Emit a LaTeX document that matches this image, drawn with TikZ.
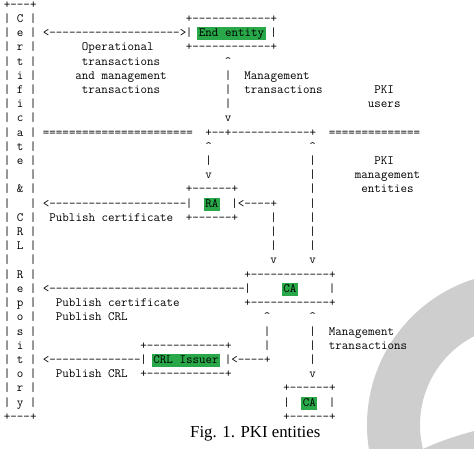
\documentclass[tikz,border=0pt]{standalone}
\usepackage{fontspec}
\setmainfont{Liberation Serif}
\definecolor{hlgreen}{RGB}{40,168,72}
\definecolor{wmgray}{RGB}{206,206,206}
\tikzset{
  asc/.style={font=\ttfamily\fontsize{12.65}{14}\selectfont, inner sep=0pt, anchor=base west, text=black},
  hl/.style={fill=hlgreen, inner xsep=1.5pt, xshift=-1.5pt, text height=9.5pt, text depth=3.5pt},
  captionstyle/.style={font=\rmfamily\fontsize{16.8}{20}\selectfont, inner sep=0pt, anchor=base west}
}
\newcommand\cell[5][]{\node[asc,#1] (#2) at ({3.75+6.5*(#3)},{8.4+14.2*(#4)}) {#5};}
\begin{document}
\begin{tikzpicture}[x=1pt,y=-1pt]
\useasboundingbox (0,0) rectangle (474,449);
% watermark
\begin{scope}
  \clip (0,0) rectangle (474,449);
  \fill[wmgray, even odd rule] (520,425) circle[radius=153pt] (520,425) circle[radius=100pt];
  \fill[wmgray] (423,449) .. controls (440,441) and (456,436) .. (474,431) -- (474,449) -- cycle;
\end{scope}
% repository column
\cell{repTop}{0}{0}{+---+}
\cell{repBot}{0}{29}{+---+}
\foreach \ch [count=\r] in {C,e,r,t,i,f,i,c,a,t,e,{},\&,{},C,R,L,{},R,e,p,o,s,i,t,o,r,y}{
  \cell{lL\r}{0}{\r}{|}
  \cell{lC\r}{2}{\r}{\ch}
  \cell{lR\r}{4}{\r}{|}
}
% end entity
\cell{eeTop}{28}{1}{+------------+}
\cell{arrE}{6}{2}{<-------------------->}
\cell{eeL}{28}{2}{|}
\cell[hl]{ee}{30}{2}{End entity}
\cell{eeR}{41}{2}{|}
\cell{eeBot}{28}{3}{+------------+}
\cell{op1}{12}{3}{Operational}
\cell{op2}{12}{4}{transactions}
\cell{op3}{11}{5}{and management}
\cell{op4}{12}{6}{transactions}
\cell{up1}{34}{4}{\textasciicircum}
\cell{v1a}{34}{5}{|}
\cell{v1b}{34}{6}{|}
\cell{v1c}{34}{7}{|}
\cell{dn1}{34}{8}{v}
\cell{mt1}{37}{5}{Management}
\cell{mt2}{37}{6}{transactions}
\cell{pu1}{57}{6}{PKI}
\cell{pu2}{56}{7}{users}
% separator row
\cell{eqL}{6}{9}{=======================}
\cell{bus}{31}{9}{+--+------------+}
\cell{eqR}{50}{9}{==============}
\cell{up2}{31}{10}{\textasciicircum}
\cell{up3}{47}{10}{\textasciicircum}
\cell{v2a}{31}{11}{|}
\cell{dn2}{31}{12}{v}
\cell{v3a}{47}{11}{|}
\cell{v3b}{47}{12}{|}
\cell{v3c}{47}{13}{|}
\cell{v3d}{47}{14}{|}
\cell{v3e}{47}{15}{|}
\cell{v3f}{47}{16}{|}
\cell{v3g}{47}{17}{|}
\cell{dn3}{47}{18}{v}
\cell{pm1}{57}{11}{PKI}
\cell{pm2}{54}{12}{management}
\cell{pm3}{55}{13}{entities}
% RA
\cell{raTop}{28}{13}{+------+}
\cell{arrRA}{6}{14}{<---------------------}
\cell{raL}{28}{14}{|}
\cell[hl]{ra}{31}{14}{RA}
\cell{raR}{35}{14}{|}
\cell{arrRAin}{36}{14}{<----+}
\cell{raBot}{28}{15}{+------+}
\cell{pc1}{7}{15}{Publish certificate}
\cell{v4a}{41}{15}{|}
\cell{v4b}{41}{16}{|}
\cell{v4c}{41}{17}{|}
\cell{dn4}{41}{18}{v}
% CA
\cell{caTop}{37}{19}{+------------+}
\cell{arrCA}{6}{20}{<------------------------------}
\cell{caL}{37}{20}{|}
\cell[hl]{ca}{43}{20}{CA}
\cell{caR}{50}{20}{|}
\cell{caBot}{37}{21}{+------------+}
\cell{pc2}{8}{21}{Publish certificate}
\cell{pcrl1}{8}{22}{Publish CRL}
\cell{up5}{40}{22}{\textasciicircum}
\cell{up6}{47}{22}{\textasciicircum}
\cell{v5a}{40}{23}{|}
\cell{v5b}{40}{24}{|}
\cell{v6a}{47}{23}{|}
\cell{v6b}{47}{24}{|}
\cell{v6c}{47}{25}{|}
\cell{dn6}{47}{26}{v}
\cell{mt3}{50}{23}{Management}
\cell{mt4}{50}{24}{transactions}
% CRL issuer
\cell{ciTop}{21}{24}{+------------+}
\cell{arrCI}{6}{25}{<--------------}
\cell{ciL}{21}{25}{|}
\cell[hl]{ci}{23}{25}{CRL Issuer}
\cell{ciR}{34}{25}{|}
\cell{arrCIin}{35}{25}{<----+}
\cell{ciBot}{21}{26}{+------------+}
\cell{pcrl2}{8}{26}{Publish CRL}
% root CA
\cell{rcTop}{43}{27}{+------+}
\cell{rcL}{43}{28}{|}
\cell[hl]{rca}{46}{28}{CA}
\cell{rcR}{50}{28}{|}
\cell{rcBot}{43}{29}{+------+}
% caption
\node[captionstyle] (cap) at (190,437) {Fig. 1. PKI entities};
\end{tikzpicture}
\end{document}
